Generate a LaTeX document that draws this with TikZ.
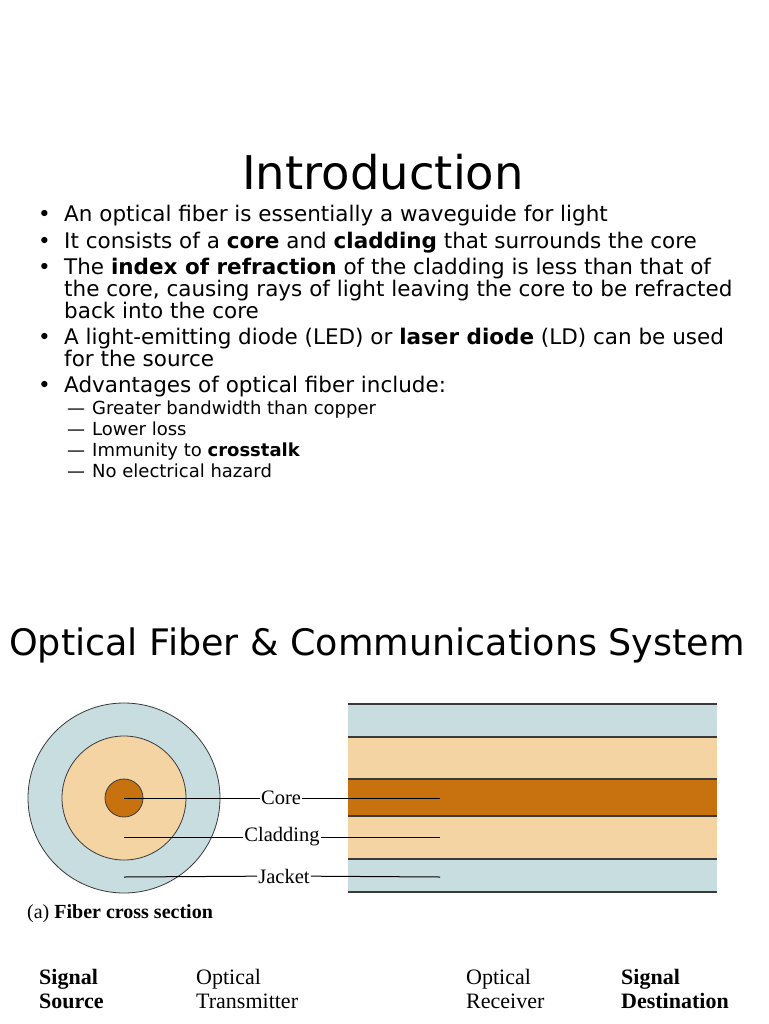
\documentclass[tikz,border=0pt]{standalone}
\usepackage{fontspec}
\setmainfont{DejaVu Sans}
\newfontfamily\figfont{Liberation Serif}
\definecolor{jack}{HTML}{C8DDE0}
\definecolor{clad}{HTML}{F5D4A4}
\definecolor{corec}{HTML}{C7720F}
\definecolor{edge}{HTML}{3A3A3A}
\begin{document}
\begin{tikzpicture}[x=1pt,y=-1pt,
  bul/.style={anchor=base west,font=\fontsize{21.5}{24}\selectfont,inner sep=0pt},
  sub/.style={anchor=base west,font=\fontsize{18}{20}\selectfont,inner sep=0pt},
  lab/.style={font=\figfont\fontsize{20.5}{22}\selectfont,fill=white,inner sep=1pt},
  blab/.style={font=\figfont\fontsize{22}{24}\selectfont,anchor=base west,inner sep=0pt,align=left},
  lead/.style={draw=black,line width=1pt}]
\useasboundingbox (0,0) rectangle (768,1024);
\node (title) at (383,172) {\fontsize{46.5}{52}\selectfont Introduction};
\foreach \y/\t in {222/{An optical fiber is essentially a waveguide for light},
  248/{It consists of a \textbf{core} and \textbf{cladding} that surrounds the core},
  274/{The \textbf{index of refraction} of the cladding is less than that of},
  344/{A light-emitting diode (LED) or \textbf{laser diode} (LD) can be used},
  392/{Advantages of optical fiber include:}}
  {\node[bul] at (64,\y) {\t}; \node[bul] at (38,\y) {•};}
\node[bul] (b3a) at (64,296) {the core, causing rays of light leaving the core to be refracted};
\node[bul] (b3b) at (64,318) {back into the core};
\node[bul] (b4b) at (64,366) {for the source};
\foreach \y/\t in {414/{Greater bandwidth than copper},435/{Lower loss},456/{Immunity to \textbf{crosstalk}},477/{No electrical hazard}}
  {\node[sub] at (92,\y) {\t}; \node[sub] at (67,\y) {—};}
\node (t2) at (377,645) {\fontsize{36.5}{40}\selectfont Optical Fiber \& Communications System};
% cross section
\draw[edge,fill=jack,line width=0.8pt] (124,798) ellipse (96 and 95);
\draw[edge,fill=clad,line width=0.8pt] (124,798) ellipse (62 and 62);
\draw[edge,fill=corec,line width=0.8pt] (124,798) ellipse (19 and 19);
% stripes
\fill[jack] (348,704) rectangle (717,737);
\fill[clad] (348,737) rectangle (717,779);
\fill[corec] (348,779) rectangle (717,816);
\fill[clad] (348,816) rectangle (717,859);
\fill[jack] (348,859) rectangle (717,892);
\foreach \y in {704,737,779,816,859,892} \draw[edge,line width=1.6pt] (348,\y) -- (717,\y);
\coordinate (c1) at (124,798); \coordinate (c2) at (124,837); \coordinate (c3) at (124,877);
\coordinate (e1) at (440,798); \coordinate (e2) at (440,837); \coordinate (e3) at (440,877);
\node[lab] (core) at (281,798) {Core};
\node[lab] (cladding) at (282,837) {Cladding};
\node[lab] (jacket) at (284,876) {Jacket};
\draw[lead] (c1) -- (core); \draw[lead] (core) -- (e1);
\draw[lead] (c2) -- (cladding); \draw[lead] (cladding) -- (e2);
\draw[lead] (c3) -- (jacket); \draw[lead] (jacket) -- (e3);
\node[font=\figfont\fontsize{20}{22}\selectfont,anchor=base west,inner sep=0pt] (cap) at (27,918) {(a) \textbf{Fiber cross section}};
\node[blab] (ss) at (39,1008) {\textbf{Signal}\\\textbf{Source}};
\node[blab] (ot) at (196,1008) {Optical\\Transmitter};
\node[blab] (or) at (466,1008) {Optical\\Receiver};
\node[blab] (sd) at (621,1008) {\textbf{Signal}\\\textbf{Destination}};
\end{tikzpicture}
\end{document}
